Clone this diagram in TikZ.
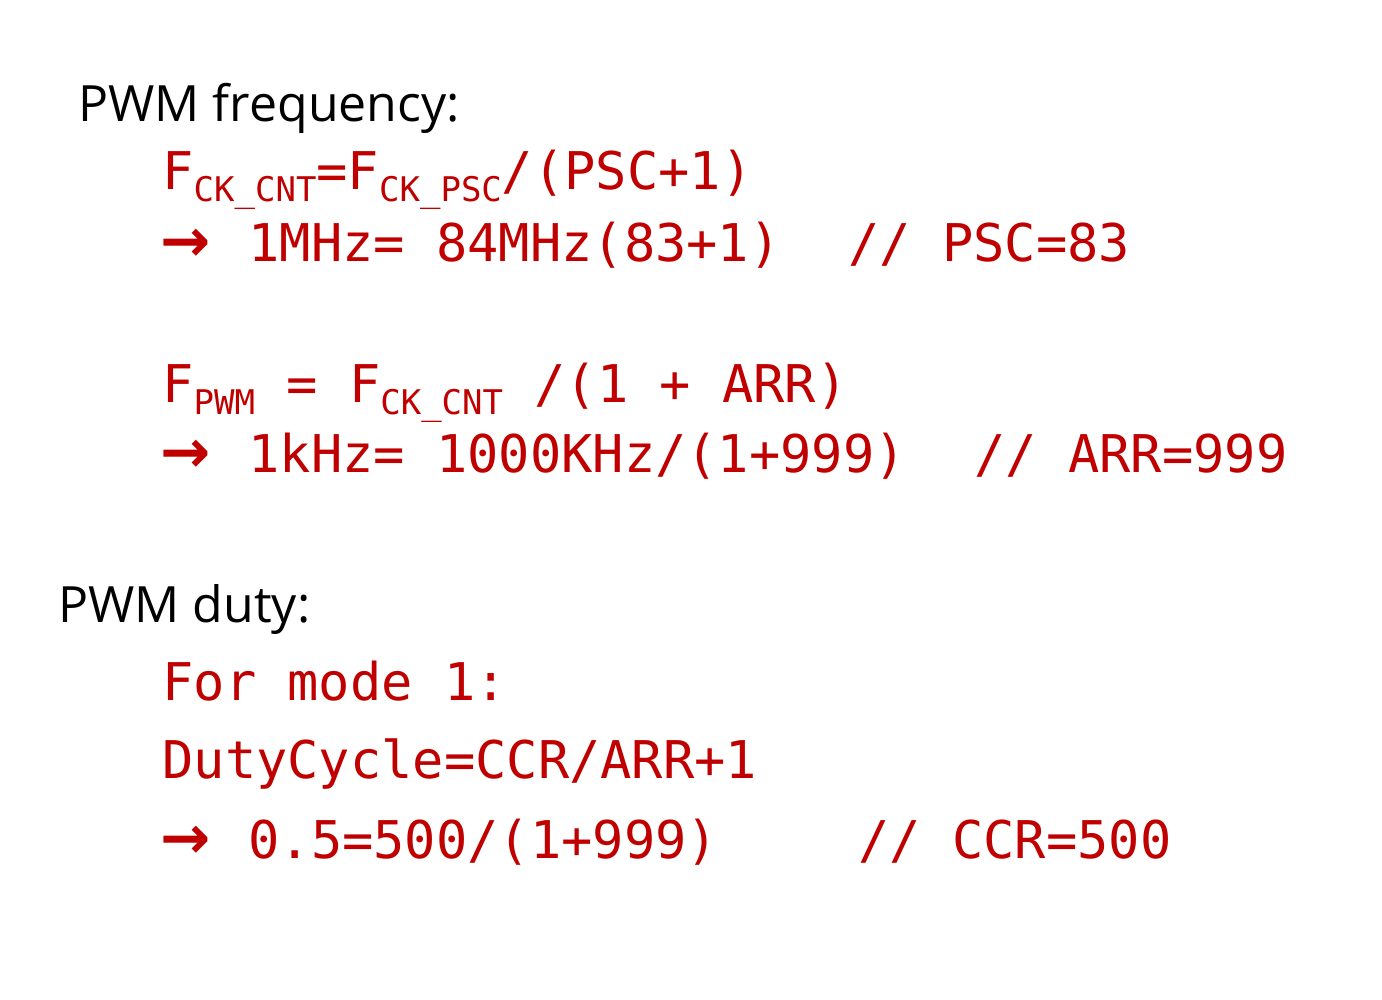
\documentclass[tikz,border=0pt]{standalone}
\usepackage{fontspec}
\setmainfont{Open Sans}
\newfontfamily\mono{DejaVu Sans Mono}
\newfontfamily\arr{DejaVu Sans}
\definecolor{red1}{RGB}{192,0,0}
\newcommand{\sbx}[1]{\raisebox{-6pt}{\fontsize{17}{17}\selectfont #1}}
\begin{document}
\begin{tikzpicture}[x=0.5pt,y=-0.5pt,
  blk/.style={anchor=base west,inner sep=0,font=\fontsize{25}{30}\selectfont},
  red/.style={anchor=base west,inner sep=0,text=red1,font=\mono\fontsize{26}{30}\selectfont},
  arrw/.style={anchor=base west,inner sep=0,text=red1,font=\arr\bfseries\fontsize{30}{30}\selectfont}]
\useasboundingbox (0,0) rectangle (1382,1000);
\node[blk] (t1) at (78,122) {PWM frequency:};
\node[red] (a1) at (162,190) {F\sbx{CK\_CNT}=F\sbx{CK\_PSC}/(PSC+1)};
\node[arrw] (r1) at (160,262) {→};
\node[red] (a2) at (248,262) {1MHz= 84MHz(83+1)};
\node[red] (a3) at (848,262) {// PSC=83};
\node[red] (b1) at (162,402) {F\sbx{PWM} = F\sbx{CK\_CNT} /(1 + ARR)};
\node[arrw] (r2) at (160,472) {→};
\node[red] (b2) at (248,472) {1kHz= 1000KHz/(1+999)};
\node[red] (b3) at (974,472) {// ARR=999};
\node[blk] (t2) at (58,622) {PWM duty:};
\node[red] (c1) at (162,700) {For mode 1:};
\node[red] (c2) at (162,778) {DutyCycle=CCR/ARR+1};
\node[arrw] (r3) at (160,858) {→};
\node[red] (c3) at (248,858) {0.5=500/(1+999)};
\node[red] (c4) at (858,858) {// CCR=500};
\end{tikzpicture}
\end{document}
